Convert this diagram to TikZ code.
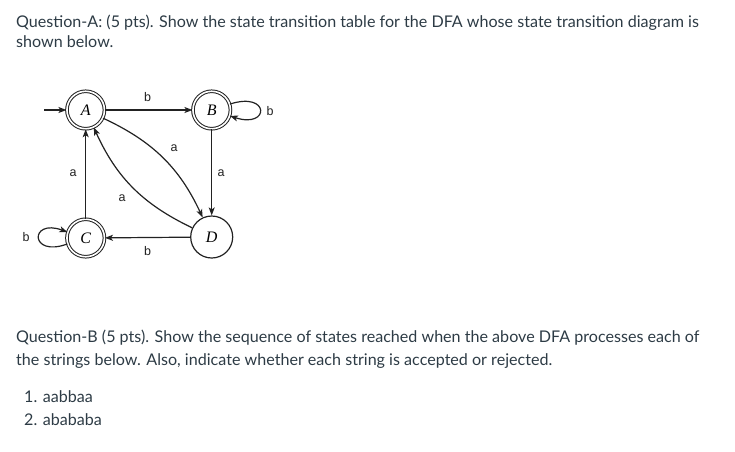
\documentclass[tikz,border=0pt]{standalone}
\usepackage{fontspec}
\setmainfont{Lato}
\newfontfamily\lblfont{Liberation Sans}
\newfontfamily\stfont{Liberation Serif}
\usetikzlibrary{arrows.meta}
\definecolor{txt}{HTML}{2D3B45}
\definecolor{ink}{HTML}{222222}
\begin{document}
\begin{tikzpicture}[x=1pt,y=1pt,
  para/.style={anchor=base west,inner sep=0pt,text=txt,font=\fontsize{16.1}{19}\selectfont},
  dstate/.style={circle,draw=ink,double,double distance=1.6pt,line width=1pt,minimum size=37.5pt,inner sep=0pt,font=\stfont\itshape\fontsize{16}{16}\selectfont},
  sstate/.style={circle,draw=ink,line width=1.2pt,minimum size=42pt,inner sep=0pt,font=\stfont\itshape\fontsize{16}{16}\selectfont},
  edge/.style={draw=ink,line width=1.2pt,-{Stealth[length=8pt,width=6pt,inset=2pt]}},
  lbl/.style={inner sep=0pt,font=\lblfont\fontsize{12.5}{12.5}\selectfont,text=ink}]
\useasboundingbox (0,0) rectangle (735,-451);
% text
\node[para] (q1) at (16,-27) {Question-A: (5 pts). Show the state transition table for the DFA whose state transition diagram is};
\node[para] (q2) at (16,-47) {shown below.};
\node[para] (q3) at (16,-342) {Question-B (5 pts). Show the sequence of states reached when the above DFA processes each of};
\node[para] (q4) at (16,-365) {the strings below. Also, indicate whether each string is accepted or rejected.};
\node[para] (l1) at (24,-402) {1. aabbaa};
\node[para] (l2) at (24,-425) {2. abababa};
% states
\node[dstate] (A) at (85.7,-110) {A};
\node[dstate] (B) at (211.7,-110) {B};
\node[dstate] (C) at (85.7,-238) {C};
\node[sstate] (D) at (211.7,-237) {D};
\coordinate (start) at (44,-110);
% edges
\draw[edge] (start) -- (A);
\draw[edge] (A) -- (B);
\draw[edge] (B.18) .. controls +(40pt,13pt) and +(40pt,-13pt) .. (B.-18);
\draw[edge] (C.-162) .. controls +(-38pt,-14pt) and +(-38pt,14pt) .. (C.162);
\draw[edge] (C) -- (A);
\draw[edge] (B) -- (D);
\draw[edge] (D) -- (C);
\draw[edge] (A) to[bend left=20] (D);
\draw[edge] (D) to[bend left=20] (A);
% labels
\node[lbl] (lab1) at (147.7,-97) {b};
\node[lbl] (lab2) at (270,-111) {b};
\node[lbl] (lab3) at (26,-237) {b};
\node[lbl] (lab4) at (174,-148) {a};
\node[lbl] (lab5) at (221,-173) {a};
\node[lbl] (lab6) at (73,-173) {a};
\node[lbl] (lab7) at (122,-198) {a};
\node[lbl] (lab8) at (147.7,-251) {b};
\end{tikzpicture}
\end{document}
